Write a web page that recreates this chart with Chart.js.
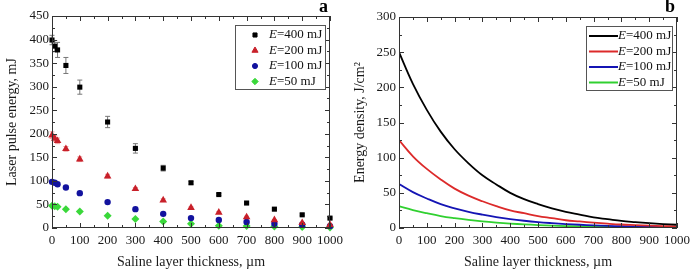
<!DOCTYPE html>
<html>
<head>
<meta charset="utf-8">
<script src="https://cdn.jsdelivr.net/npm/chart.js@4.4.1/dist/chart.umd.min.js"></script>
<style>
  html, body { margin: 0; padding: 0; background: #fff; }
  .panel { position: absolute; top: 0; width: 348px; height: 275px; }
  #wrapA { left: 0; }
  #wrapB { left: 348px; }
</style>
</head>
<body>
<div class="panel" id="wrapA"><canvas id="chartA" width="348" height="275"></canvas></div>
<div class="panel" id="wrapB"><canvas id="chartB" width="348" height="275"></canvas></div>
<script>
// panel a: measured pulse energy vs saline thickness
const thickness = [0, 10, 20, 50, 100, 200, 300, 400, 500, 600, 700, 800, 900, 1000];
const pulse400 = [399, 386, 378, 345, 299, 225, 169, 127, 96, 71, 53, 40, 28, 21];
const err400 = [10, 12, 16, 17, 15, 12, 10, 6, 3, 2, 2, 2, 2, 2];
const pulse200 = [197, 190, 185, 168, 146, 110, 83, 59, 43, 33, 23, 17, 11, 7];
const err200 = [7, 6, 6, 5, 5, 4, 3, 3, 2, 2, 2, 1, 1, 1];
const pulse100 = [98, 96, 93, 86, 74, 55, 40, 30, 21, 17, 13, 9, 7, 4];
const pulse50 = [47, 46, 45, 40, 35, 26, 19, 14, 9, 5, 4, 3, 2, 1];

// panel b: energy density curves
const curveX = [0, 50, 100, 150, 200, 250, 300, 350, 400, 450, 500, 550, 600, 650, 700, 750, 800, 850, 900, 950, 1000];
const dens400 = [250, 205, 168, 137, 112, 92, 75, 62, 50, 41, 34, 28, 23, 19, 15, 12.5, 10, 8.3, 6.8, 5.6, 4.6];
const dens200 = [125, 102, 84, 69, 56, 46, 38, 31, 25, 21, 17, 14, 11, 9.3, 7.6, 6.2, 5.0, 4.2, 3.4, 2.8, 2.3];
const dens100 = [62.5, 51, 42, 34, 28, 23, 19, 15.5, 12.6, 10.3, 8.4, 6.9, 5.6, 4.6, 3.8, 3.1, 2.5, 2.1, 1.7, 1.4, 1.1];
const dens50 = [31, 25.5, 21, 17, 14, 11.5, 9.4, 7.7, 6.3, 5.2, 4.2, 3.4, 2.8, 2.3, 1.9, 1.5, 1.3, 1.0, 0.8, 0.7, 0.6];

const legendLabels = ['400', '200', '100', '50'];

const cBlack = '#000000';
const cRed = '#c8202a';
const cBlue = '#12129e';
const cGreen = '#3ad83a';
const lRed = '#dc2a2a';
const lBlue = '#1414b4';
const lGreen = '#30d030';

Chart.defaults.font.family = "'Liberation Serif', 'Times New Roman', serif";
Chart.defaults.color = '#1a1a1a';
Chart.defaults.animation = false;

const pts = (xs, ys) => xs.map((x, i) => ({ x: x, y: ys[i] }));

// error bars from the err arrays, drawn through the scales
const errorBars = {
    id: 'errorBars',
    beforeDatasetsDraw(chart) {
        const ctx = chart.ctx;
        const xs = chart.scales.x, ys = chart.scales.y;
        chart.data.datasets.forEach(ds => {
            if (!ds.errors) return;
            ctx.save();
            ctx.strokeStyle = ds.errorColor;
            ctx.lineWidth = 1;
            ds.data.forEach((p, i) => {
                const e = ds.errors[i];
                const px = xs.getPixelForValue(p.x);
                const top = ys.getPixelForValue(p.y + e);
                const bot = ys.getPixelForValue(p.y - e);
                ctx.beginPath();
                ctx.moveTo(px, top); ctx.lineTo(px, bot);
                ctx.moveTo(px - 2.5, top); ctx.lineTo(px + 2.5, top);
                ctx.moveTo(px - 2.5, bot); ctx.lineTo(px + 2.5, bot);
                ctx.stroke();
            });
            ctx.restore();
        });
    }
};

// frame with inward ticks on all four sides
const frameTicks = {
    id: 'frameTicks',
    afterDraw(chart) {
        const ctx = chart.ctx;
        const a = chart.chartArea;
        ctx.save();
        ctx.strokeStyle = '#333';
        ctx.lineWidth = 1;
        ctx.strokeRect(a.left + 0.5, a.top + 0.5, a.right - a.left - 1, a.bottom - a.top - 1);
        ['x', 'y'].forEach(id => {
            const sc = chart.scales[id];
            const vals = sc.ticks.map(t => t.value);
            const all = [];
            vals.forEach((v, i) => {
                all.push([v, 5]);
                if (i < vals.length - 1) all.push([(v + vals[i + 1]) / 2, 3]);
            });
            all.forEach(([v, len]) => {
                const p = Math.round(sc.getPixelForValue(v)) + 0.5;
                ctx.beginPath();
                if (id === 'x') {
                    ctx.moveTo(p, a.bottom); ctx.lineTo(p, a.bottom - len);
                    ctx.moveTo(p, a.top); ctx.lineTo(p, a.top + len);
                } else {
                    ctx.moveTo(a.left, p); ctx.lineTo(a.left + len, p);
                    ctx.moveTo(a.right, p); ctx.lineTo(a.right - len, p);
                }
                ctx.stroke();
            });
        });
        ctx.restore();
    }
};

// boxed legend with italic E, plus the panel letter
const boxLegend = {
    id: 'boxLegend',
    afterDraw(chart, args, opts) {
        const ctx = chart.ctx;
        const a = chart.chartArea;
        const w = opts.width, h = 64;
        const x0 = a.right - w - 5, y0 = a.top + 9;
        ctx.save();
        ctx.fillStyle = '#fff';
        ctx.fillRect(x0, y0, w, h);
        ctx.strokeStyle = '#555';
        ctx.lineWidth = 1;
        ctx.strokeRect(x0 + 0.5, y0 + 0.5, w, h);
        chart.data.datasets.forEach((ds, i) => {
            const y = y0 + 10 + i * 15.5;
            ctx.fillStyle = ds.borderColor;
            ctx.strokeStyle = ds.borderColor;
            if (opts.lines) {
                ctx.lineWidth = 2;
                ctx.beginPath();
                ctx.moveTo(x0 + 3, y); ctx.lineTo(x0 + 32, y);
                ctx.stroke();
            } else {
                Chart.helpers.drawPoint(ctx, {
                    pointStyle: ds.pointStyle, radius: ds.pointRadius * 0.8, borderWidth: 1
                }, x0 + 20, y);
            }
            const tx = x0 + opts.textX;
            ctx.fillStyle = '#111';
            ctx.textBaseline = 'middle';
            ctx.textAlign = 'left';
            ctx.font = "italic 13px 'Liberation Serif'";
            ctx.fillText('E', tx, y);
            const ew = ctx.measureText('E').width;
            ctx.font = "13px 'Liberation Serif'";
            ctx.fillText('=' + legendLabels[i] + ' mJ', tx + ew, y);
        });
        ctx.font = "bold 18px 'Liberation Serif'";
        ctx.fillStyle = '#000';
        ctx.textAlign = 'right';
        ctx.textBaseline = 'middle';
        ctx.fillText(opts.letter, a.right - 2, 7);
        ctx.restore();
    }
};

const axisOpts = (max, step, title) => ({
    x: {
        type: 'linear', min: 0, max: 1000,
        grid: { display: false, drawTicks: false },
        border: { display: false },
        ticks: {
            stepSize: 100, padding: 5, font: { size: 13 }, color: '#1a1a1a',
            maxRotation: 0, autoSkip: false, callback: v => String(v)
        },
        title: { display: true, text: 'Saline layer thickness, µm', font: { size: 14 }, color: '#1a1a1a' },
        afterFit: s => { s.height = 47; }
    },
    y: {
        type: 'linear', min: 0, max: max,
        grid: { display: false, drawTicks: false },
        border: { display: false },
        ticks: { stepSize: step, padding: 3, font: { size: 13 }, color: '#1a1a1a', autoSkip: false },
        title: { display: true, text: title, font: { size: 14 }, color: '#1a1a1a' },
        afterFit: s => { s.width = s.chart.canvas.id === 'chartA' ? 52 : 51; }
    }
});

const scatterSet = (data, color, style, radius, extra) => Object.assign({
    data: data,
    borderColor: color,
    backgroundColor: color,
    pointStyle: style,
    pointRadius: radius,
    pointBorderWidth: 0,
    showLine: false,
    clip: false
}, extra || {});

new Chart(document.getElementById('chartA'), {
    type: 'scatter',
    data: {
        datasets: [
            scatterSet(pts(thickness, pulse400), cBlack, 'rect', 3.6, { errors: err400, errorColor: '#777' }),
            scatterSet(pts(thickness, pulse200), cRed, 'triangle', 4.4, { errors: err200, errorColor: '#f0a0a0' }),
            scatterSet(pts(thickness, pulse100), cBlue, 'circle', 3.2),
            scatterSet(pts(thickness, pulse50), cGreen, 'rectRot', 4)
        ]
    },
    options: {
        responsive: false,
        layout: { padding: { top: 16, right: 18, left: 0, bottom: 0 } },
        plugins: {
            legend: { display: false },
            tooltip: { enabled: false },
            boxLegend: { width: 90, textX: 34, letter: 'a', lines: false }
        },
        scales: axisOpts(450, 50, 'Laser pulse energy, mJ')
    },
    plugins: [errorBars, frameTicks, boxLegend]
});

const lineSet = (data, color) => ({
    data: data,
    borderColor: color,
    backgroundColor: color,
    borderWidth: 1.8,
    pointRadius: 0,
    showLine: true,
    tension: 0.4
});

new Chart(document.getElementById('chartB'), {
    type: 'scatter',
    data: {
        datasets: [
            lineSet(pts(curveX, dens400), cBlack),
            lineSet(pts(curveX, dens200), lRed),
            lineSet(pts(curveX, dens100), lBlue),
            lineSet(pts(curveX, dens50), lGreen)
        ]
    },
    options: {
        responsive: false,
        layout: { padding: { top: 17, right: 19, left: 0, bottom: 0 } },
        plugins: {
            legend: { display: false },
            tooltip: { enabled: false },
            boxLegend: { width: 86, textX: 32, letter: 'b', lines: true }
        },
        scales: axisOpts(300, 50, 'Energy density, J/cm²')
    },
    plugins: [frameTicks, boxLegend]
});
</script>
</body>
</html>
